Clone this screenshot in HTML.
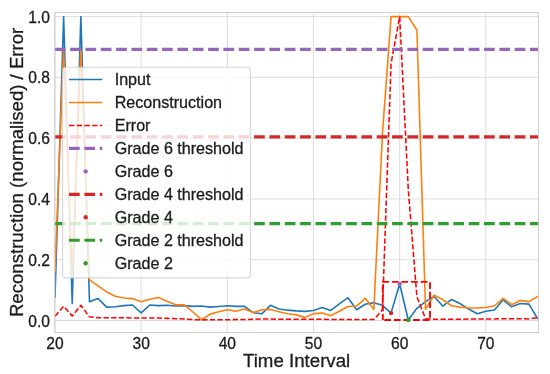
<!DOCTYPE html><html><head><meta charset="utf-8"><title>Reconstruction error</title>
<style>html,body{margin:0;padding:0;background:#fff}svg{display:block}text{font-family:"Liberation Sans",Arial,sans-serif;fill:#1c1c1c;stroke:#1c1c1c;stroke-width:0.3px}</style></head><body>
<svg width="550" height="374" viewBox="0 0 550 374">
<rect width="550" height="374" fill="#fff"/>
<g stroke="#d2d2d2" stroke-width="0.75" fill="none">
<line x1="55.00" y1="12.45" x2="55.00" y2="332.5"/>
<line x1="141.17" y1="12.45" x2="141.17" y2="332.5"/>
<line x1="227.34" y1="12.45" x2="227.34" y2="332.5"/>
<line x1="313.51" y1="12.45" x2="313.51" y2="332.5"/>
<line x1="399.68" y1="12.45" x2="399.68" y2="332.5"/>
<line x1="485.85" y1="12.45" x2="485.85" y2="332.5"/>
<line x1="54.8" y1="320.50" x2="538.4" y2="320.50"/>
<line x1="54.8" y1="259.72" x2="538.4" y2="259.72"/>
<line x1="54.8" y1="198.94" x2="538.4" y2="198.94"/>
<line x1="54.8" y1="138.16" x2="538.4" y2="138.16"/>
<line x1="54.8" y1="77.38" x2="538.4" y2="77.38"/>
<line x1="54.8" y1="16.60" x2="538.4" y2="16.60"/>
</g>
<clipPath id="c"><rect x="54.8" y="12.45" width="483.59999999999997" height="320.05"/></clipPath>
<g clip-path="url(#c)" fill="none" stroke-linejoin="round">
<path d="M55.00,297.10 L63.62,16.60 L72.23,303.48 L80.85,16.60 L89.47,301.66 L98.09,298.62 L106.70,307.13 L115.32,306.82 L123.94,305.61 L132.55,305.00 L141.17,312.90 L149.79,305.00 L158.40,305.61 L167.02,305.31 L175.64,306.06 L184.26,305.61 L192.87,306.34 L201.49,306.06 L210.11,307.13 L218.72,306.52 L227.34,305.76 L235.96,306.34 L244.57,306.34 L253.19,312.66 L261.81,313.81 L270.43,305.31 L279.04,308.95 L287.66,310.17 L296.28,310.90 L304.89,311.38 L313.51,310.47 L322.13,307.52 L330.74,310.47 L339.36,303.79 L347.98,297.71 L356.60,309.71 L365.21,304.27 L373.83,302.66 L382.45,305.31 L391.06,313.08 L399.68,284.03 L408.30,320.01 L416.91,308.34 L425.53,301.66 L434.15,296.49 L442.77,306.06 L451.38,299.53 L460.00,303.57 L468.62,308.95 L477.23,313.81 L485.85,311.20 L494.47,310.02 L503.08,299.83 L511.70,306.82 L520.32,303.48 L528.94,304.09 L537.55,318.52" stroke="#1f77b4" stroke-width="1.6" stroke-linecap="square"/>
<path d="M55.00,270.96 L63.62,50.03 L72.23,276.13 L80.85,50.03 L89.47,279.78 L98.09,285.86 L106.70,291.93 L115.32,296.19 L123.94,298.01 L132.55,298.62 L141.17,301.66 L149.79,299.23 L158.40,297.53 L167.02,301.20 L175.64,304.85 L184.26,304.85 L192.87,311.99 L201.49,319.71 L210.11,314.12 L218.72,311.69 L227.34,309.71 L235.96,311.20 L244.57,308.95 L253.19,312.60 L261.81,309.71 L270.43,309.41 L279.04,311.69 L287.66,313.81 L296.28,314.88 L304.89,317.37 L313.51,313.66 L322.13,313.08 L330.74,315.64 L339.36,311.20 L347.98,306.52 L356.60,306.06 L365.21,298.32 L373.83,309.41 L382.45,133.60 L391.06,16.60 L399.68,16.60 L408.30,16.60 L416.91,30.28 L425.53,309.26 L434.15,295.28 L442.77,299.53 L451.38,305.76 L460.00,307.13 L468.62,308.04 L477.23,308.04 L485.85,307.52 L494.47,305.76 L503.08,298.32 L511.70,304.70 L520.32,300.59 L528.94,301.66 L537.55,296.49" stroke="#ff7f0e" stroke-width="1.6" stroke-linecap="square"/>
<path d="M55.00,316.25 L63.62,306.22 L72.23,315.94 L80.85,305.31 L89.47,316.85 L98.09,317.76 L106.70,317.76 L115.32,317.76 L123.94,317.76 L132.55,318.07 L141.17,318.07 L149.79,318.07 L158.40,318.07 L167.02,318.37 L175.64,318.68 L184.26,318.98 L192.87,319.59 L201.49,319.89 L210.11,319.71 L218.72,319.71 L227.34,319.71 L235.96,319.59 L244.57,319.59 L253.19,319.28 L261.81,318.98 L270.43,318.98 L279.04,319.28 L287.66,319.28 L296.28,319.28 L304.89,319.28 L313.51,319.28 L322.13,319.28 L330.74,319.59 L339.36,319.59 L347.98,319.59 L356.60,319.59 L365.21,319.59 L373.83,319.59 L382.45,309.86 L391.06,63.70 L399.68,16.60 L408.30,189.82 L416.91,296.80 L425.53,318.68 L434.15,319.28 L442.77,319.28 L451.38,319.28 L460.00,319.28 L468.62,318.98 L477.23,318.98 L485.85,318.98 L494.47,318.98 L503.08,318.68 L511.70,318.68 L520.32,318.68 L528.94,318.98 L537.55,317.76" stroke="#ff0000" stroke-width="1.55" stroke-dasharray="5.3 2.3"/>
<line x1="54.8" y1="49.42" x2="538.4" y2="49.42" stroke="#9467bd" stroke-width="3.2" stroke-dasharray="10.7 4.63"/>
<line x1="54.8" y1="136.94" x2="538.4" y2="136.94" stroke="#d62728" stroke-width="3.2" stroke-dasharray="10.7 4.63"/>
<line x1="54.8" y1="223.71" x2="538.4" y2="223.71" stroke="#2ca02c" stroke-width="3.2" stroke-dasharray="10.7 4.63"/>
<path d="M382.8,320.0 L430.0,320.0 L430.0,281.9 L382.8,281.9 Z" stroke="#ff0000" stroke-width="1.9" stroke-dasharray="6.7 2.9" stroke-dashoffset="-1.5"/>
<circle cx="399.68" cy="284.03" r="2.2" fill="#9467bd" stroke="none"/>
<circle cx="391.06" cy="313.08" r="2.2" fill="#d62728" stroke="none"/>
<circle cx="408.30" cy="320.01" r="2.2" fill="#2ca02c" stroke="none"/>
</g>
<rect x="54.8" y="12.45" width="483.59999999999997" height="320.05" fill="none" stroke="#cccccc" stroke-width="0.95"/>
<text x="55.00" y="348.9" font-size="15.6" text-anchor="middle">20</text>
<text x="141.17" y="348.9" font-size="15.6" text-anchor="middle">30</text>
<text x="227.34" y="348.9" font-size="15.6" text-anchor="middle">40</text>
<text x="313.51" y="348.9" font-size="15.6" text-anchor="middle">50</text>
<text x="399.68" y="348.9" font-size="15.6" text-anchor="middle">60</text>
<text x="485.85" y="348.9" font-size="15.6" text-anchor="middle">70</text>
<text x="50.0" y="326.50" font-size="15.6" text-anchor="end">0.0</text>
<text x="50.0" y="265.72" font-size="15.6" text-anchor="end">0.2</text>
<text x="50.0" y="204.94" font-size="15.6" text-anchor="end">0.4</text>
<text x="50.0" y="144.16" font-size="15.6" text-anchor="end">0.6</text>
<text x="50.0" y="83.38" font-size="15.6" text-anchor="end">0.8</text>
<text x="50.0" y="22.60" font-size="15.6" text-anchor="end">1.0</text>
<text x="296.6" y="367.4" font-size="18.7" text-anchor="middle">Time Interval</text>
<text transform="translate(22.8,172.4) rotate(-90)" font-size="18.6" text-anchor="middle">Reconstruction (normalised) / Error</text>
<rect x="62.6" y="67.3" width="187.70000000000002" height="210.59999999999997" rx="3.2" fill="#fff" fill-opacity="0.8" stroke="#cccccc" stroke-opacity="0.8" stroke-width="1.1"/>
<line x1="69.0" y1="79.60" x2="102.3" y2="79.60" stroke="#1f77b4" stroke-width="1.5"/>
<text x="114.7" y="85.20" font-size="16.1">Input</text>
<line x1="69.0" y1="102.55" x2="102.3" y2="102.55" stroke="#ff7f0e" stroke-width="1.5"/>
<text x="114.7" y="108.15" font-size="16.1">Reconstruction</text>
<line x1="69.0" y1="125.50" x2="102.3" y2="125.50" stroke="#ff0000" stroke-width="1.5" stroke-dasharray="5.4 2.3"/>
<text x="114.7" y="131.10" font-size="16.1">Error</text>
<line x1="69.0" y1="148.45" x2="102.3" y2="148.45" stroke="#9467bd" stroke-width="3.2" stroke-dasharray="10.7 4.7"/>
<text x="114.7" y="154.05" font-size="16.1">Grade 6 threshold</text>
<circle cx="85.65" cy="171.40" r="2.2" fill="#9467bd"/>
<text x="114.7" y="177.00" font-size="16.1">Grade 6</text>
<line x1="69.0" y1="194.35" x2="102.3" y2="194.35" stroke="#d62728" stroke-width="3.2" stroke-dasharray="10.7 4.7"/>
<text x="114.7" y="199.95" font-size="16.1">Grade 4 threshold</text>
<circle cx="85.65" cy="217.30" r="2.2" fill="#d62728"/>
<text x="114.7" y="222.90" font-size="16.1">Grade 4</text>
<line x1="69.0" y1="240.25" x2="102.3" y2="240.25" stroke="#2ca02c" stroke-width="3.2" stroke-dasharray="10.7 4.7"/>
<text x="114.7" y="245.85" font-size="16.1">Grade 2 threshold</text>
<circle cx="85.65" cy="263.20" r="2.2" fill="#2ca02c"/>
<text x="114.7" y="268.80" font-size="16.1">Grade 2</text>
</svg></body></html>
